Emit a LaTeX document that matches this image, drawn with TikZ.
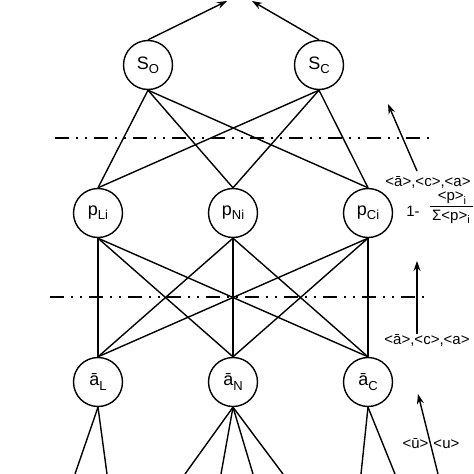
\documentclass[tikz,border=0pt]{standalone}
\usepackage{fontspec}
\setmainfont{Liberation Sans}
\usetikzlibrary{arrows.meta}
\newcommand{\lowtxt}[1]{\raisebox{-0.45ex}{\fontsize{13}{13}\selectfont #1}}
\newcommand{\lowsm}[1]{\raisebox{-0.45ex}{\fontsize{11}{11}\selectfont #1}}
\begin{document}
\begin{tikzpicture}[x=1pt,y=-1pt,
  unit/.style={circle,draw,line width=1.4pt,minimum size=49pt,inner sep=0pt,font=\fontsize{18}{18}\selectfont},
  link/.style={line width=1.4pt},
  arr/.style={line width=1.4pt,-{Stealth[length=10pt,width=7pt]}},
  sep/.style={line width=1.4pt,dash pattern=on 14pt off 7pt on 2pt off 7pt on 2pt off 7pt},
  lbl/.style={font=\fontsize{15}{15}\selectfont,inner sep=0pt}]
\useasboundingbox (0,0) rectangle (474,474);
% nodes
\node[unit] (so) at (148,65) {S\lowtxt{O}};
\node[unit] (sc) at (319,65) {S\lowtxt{C}};
\node[unit] (pl) at (98,213) {p\lowtxt{Li}};
\node[unit] (pn) at (233,213) {p\lowtxt{Ni}};
\node[unit] (pc) at (368,213) {p\lowtxt{Ci}};
\node[unit] (al) at (98,382) {ā\lowtxt{L}};
\node[unit] (an) at (233,382) {ā\lowtxt{N}};
\node[unit] (ac) at (368,382) {ā\lowtxt{C}};
% top outputs
\coordinate (to1) at (227,1);
\coordinate (to2) at (252,1);
\draw[arr] (so.north) -- (to1);
\draw[arr] (sc.north) -- (to2);
% S to p
\foreach \s in {so,sc}{\foreach \p in {pl,pn,pc}{\draw[link] (\s.south) -- (\p.north);}}
% p to a
\foreach \p in {pl,pn,pc}{\foreach \a in {al,an,ac}{\draw[link] (\p.south) -- (\a.north);}}
% bottom inputs
\coordinate (b1) at (75,474);
\coordinate (b2) at (107,474);
\coordinate (b3) at (185,474);
\coordinate (b4) at (221,474);
\coordinate (b5) at (253,474);
\coordinate (b6) at (283,474);
\coordinate (b7) at (361,474);
\coordinate (b8) at (395,474);
\draw[link] (al.south) -- (b1);
\draw[link] (al.south) -- (b2);
\draw[link] (an.south) -- (b3);
\draw[link] (an.south) -- (b4);
\draw[link] (an.south) -- (b5);
\draw[link] (an.south) -- (b6);
\draw[link] (ac.south) -- (b7);
\draw[link] (ac.south) -- (b8);
% separators
\coordinate (d1a) at (55,138);
\coordinate (d1b) at (435,138);
\coordinate (d2a) at (50,297);
\coordinate (d2b) at (430,297);
\draw[sep] (d1a) -- (d1b);
\draw[sep] (d2a) -- (d2b);
% right labels and arrows
\node[lbl] (l1) at (428,182) {<ā>,<c>,<a>};
\coordinate (t1) at (388,104);
\draw[arr] (417,171) -- (t1);
\node[lbl] (one) at (413,211) {1-};
\node[lbl] (num) at (452,198) {<p>\lowsm{i}};
\node[lbl] (den) at (451,217) {Σ<p>\lowsm{i}};
\draw[line width=0.9pt] (430,206) -- (473,206);
\node[lbl] (l2) at (427,340) {<ā>,<c>,<a>};
\coordinate (t2) at (417,261);
\draw[arr] (l2.north -| t2) -- (t2);
\node[lbl] (l3) at (431,444) {<ū>\hspace{5pt}<u>};
\coordinate (t3) at (418,394);
\coordinate (s3) at (438,474);
\draw[arr] (s3) -- (t3);
\end{tikzpicture}
\end{document}
